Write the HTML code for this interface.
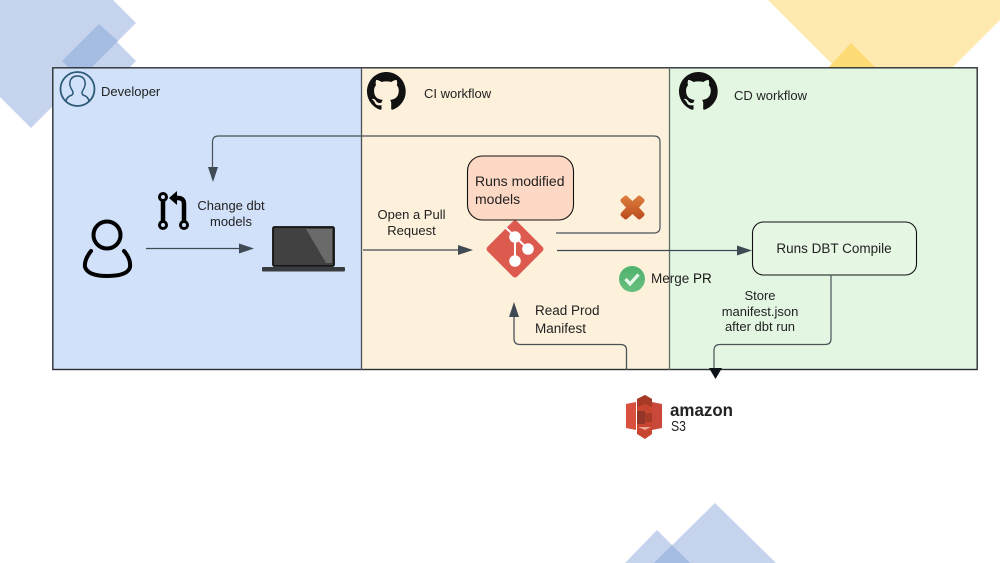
<!DOCTYPE html>
<html><head><meta charset="utf-8"><style>
html,body{margin:0;padding:0;background:#fff;width:1000px;height:563px;overflow:hidden}
svg{display:block}
text{font-family:"Liberation Sans",sans-serif;fill:#222}
</style></head><body>
<svg width="1000" height="563" viewBox="0 0 1000 563" xmlns="http://www.w3.org/2000/svg">
<defs>
<path id="gh" d="M8 0C3.58 0 0 3.58 0 8c0 3.54 2.29 6.53 5.47 7.59.4.07.55-.17.55-.38 0-.19-.01-.82-.01-1.49-2.01.37-2.53-.49-2.69-.94-.09-.23-.48-.94-.82-1.13-.28-.15-.68-.52-.01-.53.63-.01 1.08.58 1.23.82.72 1.21 1.87.87 2.33.66.07-.52.28-.87.51-1.07-1.78-.2-3.64-.89-3.64-3.95 0-.87.31-1.59.82-2.15-.08-.2-.36-1.02.08-2.12 0 0 .67-.21 2.2.82.64-.18 1.32-.27 2-.27.68 0 1.36.09 2 .27 1.53-1.04 2.2-.82 2.2-.82.44 1.1.16 1.92.08 2.12.51.56.82 1.28.82 2.15 0 3.07-1.87 3.75-3.65 3.95.29.25.54.73.54 1.48 0 1.07-.01 1.93-.01 2.2 0 .21.15.46.55.38A8.013 8.013 0 0016 8c0-4.42-3.58-8-8-8z"/>
<linearGradient id="xg" x1="0" y1="0" x2="0" y2="1"><stop offset="0" stop-color="#dd7f3e"/><stop offset="1" stop-color="#bb4a1e"/></linearGradient>
<linearGradient id="cg" x1="0" y1="0" x2="0" y2="1"><stop offset="0" stop-color="#4fb26c"/><stop offset="1" stop-color="#68bf7e"/></linearGradient>
</defs>
<!-- background decorations -->
<polygon points="0,0 113,0 136,23 31,128 0,97" fill="#c5d3ec"/>
<polygon points="99,24 136,61 129,68 69,68 62,61" fill="#c5d3ec"/>
<polygon points="99,24 118,41 91,68 69,68 62,61" fill="#a5bce3"/>
<polygon points="768,0 1000,0 1000,20 952,68 836,68" fill="#fee9ae"/>
<polygon points="851,43 876,68 828,68" fill="#fddb75"/>
<polygon points="715,503 776,563 654,563" fill="#c5d3ec"/>
<polygon points="657,530 690,563 625,563" fill="#c5d3ec"/>
<polygon points="672,545 690,563 654,563" fill="#a5bce3"/>

<!-- panels -->
<rect x="53" y="68" width="308" height="301.5" fill="#d1e1f9"/>
<rect x="361" y="68" width="308" height="301.5" fill="#fdf1dc"/>
<rect x="669" y="68" width="308" height="301.5" fill="#e3f6e2"/>
<rect x="52.8" y="67.8" width="924.4" height="301.7" fill="none" stroke="#2b2f33" stroke-width="1.4"/>
<line x1="361.5" y1="68" x2="361.5" y2="370" stroke="#4c5358" stroke-width="1.3"/>
<line x1="669.5" y1="68" x2="669.5" y2="370" stroke="#5f6b66" stroke-width="1.3"/>

<!-- headers -->
<circle cx="77.5" cy="89" r="17" fill="none" stroke="#2c5a78" stroke-width="1.8"/>
<path d="M66 102 Q66 97 72 95 Q74 93 72 90 Q69 85 70 82 Q71 76 77.500 76 Q84 76 85 82 Q86 85 83 90 Q81 93 83 95 Q89 97 89 102" fill="none" stroke="#2c5a78" stroke-width="1.5"/>
<text x="101" y="96" font-size="13">Developer</text>
<use href="#gh" transform="translate(367 72) scale(2.42)" fill="#111"/>
<text x="424" y="98" font-size="13">CI workflow</text>
<use href="#gh" transform="translate(679 72) scale(2.42)" fill="#111"/>
<text x="734" y="100" font-size="13">CD workflow</text>

<!-- person -->
<circle cx="107" cy="235" r="13.500" fill="none" stroke="#000" stroke-width="4"/>
<path d="M91 251 Q84 260 85 267 Q88 276 107 276 Q128 276 130 267 Q131 259 124 251" fill="none" stroke="#000" stroke-width="4" stroke-linecap="round"/>
<line x1="146" y1="248.500" x2="240" y2="248.500" stroke="#3f4a55" stroke-width="1.300"/>
<polygon points="239,243.500 254,248.500 239,253.500" fill="#3f4a55"/>

<!-- laptop -->
<rect x="273" y="227" width="61" height="39" rx="1.500" fill="#414141" stroke="#111" stroke-width="1.800"/>
<polygon points="306,229 332,229 332,263 326,263" fill="#6a6a6a"/>
<rect x="262" y="267" width="83" height="4.500" rx="1" fill="#3a3d40"/>

<!-- PR icon -->
<g fill="none" stroke="#000" stroke-width="3">
<circle cx="163" cy="197" r="3.500"/>
<circle cx="163" cy="225" r="3.500"/>
<circle cx="184" cy="225" r="3.500"/>
<line x1="163" y1="201" x2="163" y2="221" stroke-width="4.500"/>
<path d="M184 221 V204 Q184 198 178 198 H173" stroke-width="4.500"/>
</g>
<polygon points="169,198 177,191 177,205" fill="#000"/>
<text x="231" y="210" font-size="13" text-anchor="middle">Change dbt</text>
<text x="231" y="226" font-size="13" text-anchor="middle">models</text>

<!-- top return connector -->
<path d="M556 233 H654 Q660 233 660 227 V142 Q660 136 654 136 H218.500 Q212.500 136 212.500 142 V168" fill="none" stroke="#4a5258" stroke-width="1.200"/>
<polygon points="208,167 218,167 213,182" fill="#3f4a55"/>

<!-- PR arrow -->
<text x="411.500" y="219" font-size="13" text-anchor="middle">Open a Pull</text>
<text x="411.500" y="235" font-size="13" text-anchor="middle">Request</text>
<line x1="363" y1="250" x2="459" y2="250" stroke="#3f4a55" stroke-width="1.300"/>
<polygon points="458,245 473,250 458,255" fill="#3f4a55"/>

<!-- git diamond -->
<rect x="494" y="228" width="42" height="42" rx="3" transform="rotate(45 515 249)" fill="#dd5a4e"/>
<g stroke="#fff" stroke-width="2" fill="#fff">
<line x1="506" y1="228" x2="528" y2="249"/>
<line x1="515" y1="237" x2="515" y2="261"/>
<circle cx="515" cy="237" r="4.800"/>
<circle cx="528" cy="249" r="4.800"/>
<circle cx="515" cy="261" r="4.800"/>
</g>

<!-- Runs modified -->
<rect x="467.500" y="156" width="106" height="64" rx="15" fill="#fdd8c4" stroke="#111" stroke-width="1.100"/>
<text x="475" y="186" font-size="14" fill="#111">Runs modified</text>
<text x="475" y="204" font-size="14" fill="#111">models</text>

<!-- X -->
<path d="M621 199 L624.500 196 Q625.500 195 627 196 L632.500 201 L638 196 Q639.500 195 640.500 196 L644 199 Q645 200.500 644 202 L639 207.500 L644 213 Q645 214.500 644 216 L640.500 219 Q639.500 220 638 219 L632.500 214 L627 219 Q625.500 220 624.500 219 L621 216 Q620 214.500 621 213 L626 207.500 L621 202 Q620 200.500 621 199 Z" fill="url(#xg)"/>

<!-- Main arrow -->
<line x1="557" y1="250.500" x2="738" y2="250.500" stroke="#3f4a55" stroke-width="1.300"/>
<polygon points="737,245.500 752,250.500 737,255.500" fill="#3f4a55"/>

<!-- check -->
<circle cx="632" cy="279" r="13" fill="url(#cg)"/>
<path d="M625.500 279 L630 284 L638.500 274.500" fill="none" stroke="#e8f6ea" stroke-width="3.200"/>
<text x="651" y="283" font-size="13.500" fill="#555">Merge <tspan fill="#111">PR</tspan></text>

<!-- Runs DBT -->
<rect x="752.500" y="222" width="164" height="53" rx="11" fill="#e6f7e4" stroke="#111" stroke-width="1.100"/>
<text x="834" y="253" font-size="13.500" text-anchor="middle" fill="#444">Runs DBT Compile</text>

<!-- Store connector -->
<path d="M831 275 V339 Q831 344.500 825 344.500 H720 Q714 344.500 714 350.500 V369" fill="none" stroke="#4a5258" stroke-width="1.200"/>
<polygon points="709,368 722,368 715.500,379" fill="#0c1218"/>
<text x="760" y="300" font-size="13" text-anchor="middle">Store</text>
<text x="760" y="316" font-size="13" text-anchor="middle">manifest.json</text>
<text x="760" y="331" font-size="13" text-anchor="middle">after dbt run</text>

<!-- Read connector -->
<path d="M626.500 370 V350 Q626.500 344.500 620.500 344.500 H520 Q514 344.500 514 338.500 V316" fill="none" stroke="#4a5258" stroke-width="1.300"/>
<polygon points="509,317 519,317 514,302" fill="#3f4a55"/>
<text x="535" y="315" font-size="13.500" fill="#111">Read Prod</text>
<text x="535" y="333" font-size="13.500" fill="#111">Manifest</text>

<!-- S3 logo -->
<polygon points="626,404 636,402 636,430 626,428" fill="#d9503f"/>
<polygon points="652,402 662,404 662,428 652,430" fill="#c9483a"/>
<polygon points="637,399 645,395 652,399 652,434 645,439 637,434" fill="#c8452f"/>
<polygon points="637,399 645,395 652,399 652,407 645,404 637,407" fill="#a83a28"/>
<polygon points="637,411 645,411 645,424 637,424" fill="#94352a"/>
<polygon points="645,413 652,413 652,422 645,422" fill="#a83a28"/>
<polygon points="638,427 651,427 645,430" fill="#eda79c"/>
<text x="670" y="416" font-size="17.500" font-weight="bold" fill="#222" textLength="63" lengthAdjust="spacingAndGlyphs">amazon</text>
<text x="671" y="431" font-size="15" fill="#222" textLength="15" lengthAdjust="spacingAndGlyphs">S3</text>
</svg>
</body></html>
